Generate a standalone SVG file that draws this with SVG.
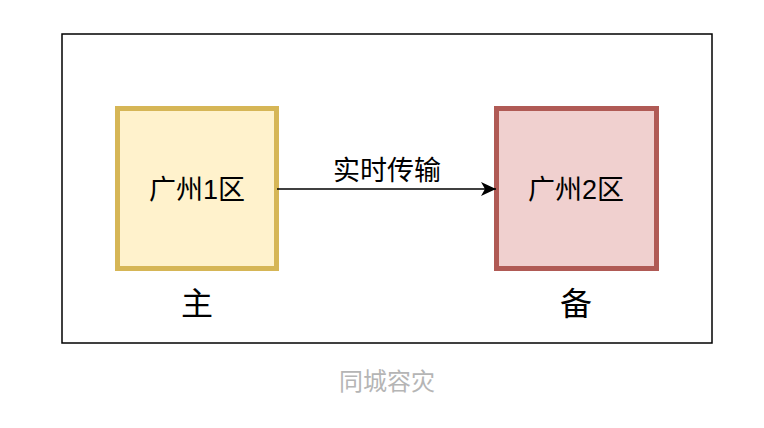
<svg xmlns="http://www.w3.org/2000/svg" width="764" height="428" viewBox="0 0 764 428">
<style>
text{font-family:"Liberation Sans","Noto Sans CJK SC",sans-serif;text-anchor:middle;fill:#000}
.n{font-size:27px}
</style>
<defs><marker id="a" markerWidth="16" markerHeight="16" refX="15" refY="8" orient="auto" markerUnits="userSpaceOnUse"><path d="M0,1 L15,8 L0,15 L4,8 Z" fill="#000"/></marker></defs>
<rect width="764" height="428" fill="#fff"/>
<rect x="62" y="34" width="650" height="309" fill="none" stroke="#000" stroke-width="1.5"/>
<g id="n1"><rect x="117.5" y="108.5" width="159" height="160" fill="#fff2cc" stroke="#d6b656" stroke-width="5"/><text class="n" x="197" y="199">广州1区</text><text x="197" y="315" font-size="32">主</text></g>
<g id="n2"><rect x="496.5" y="108.5" width="160" height="160" fill="#f0d0cf" stroke="#b05a55" stroke-width="5"/><text class="n" x="576" y="199">广州2区</text><text x="576" y="315" font-size="32">备</text></g>
<g id="edges"><line x1="277" y1="189" x2="496" y2="189" stroke="#000" stroke-width="1.5" marker-end="url(#a)"/><text x="387" y="180" font-size="27">实时传输</text></g>
<text x="387" y="390" font-size="24" style="fill:#b5b5b5">同城容灾</text>
</svg>
